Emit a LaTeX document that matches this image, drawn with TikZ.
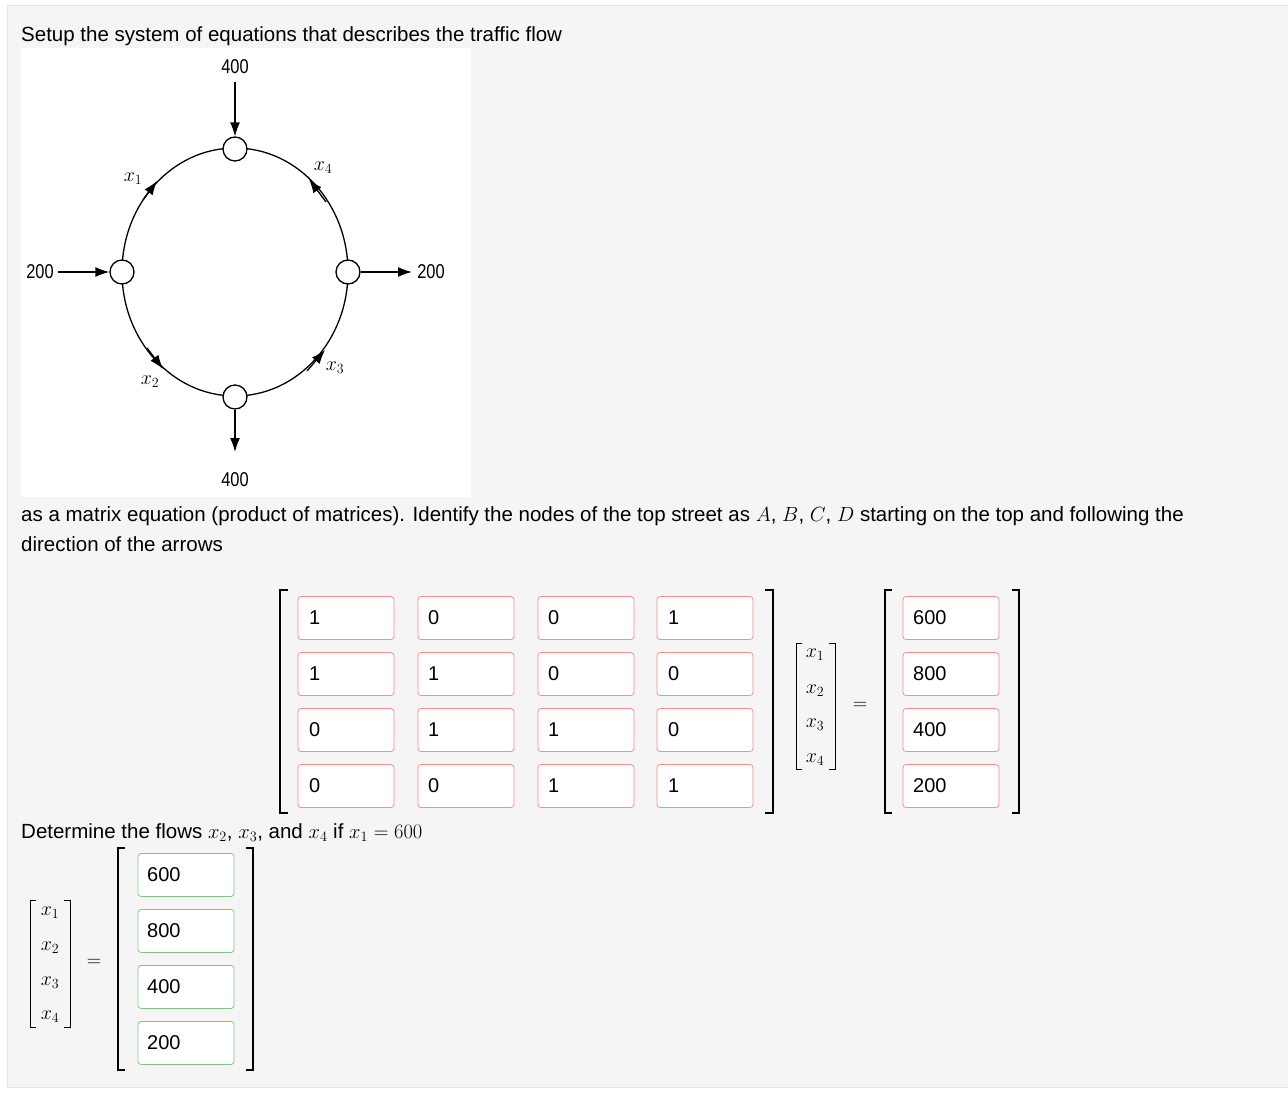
\RequirePackage{fix-cm}
\documentclass[tikz,border=0pt]{standalone}
\usepackage{fontspec}
\setmainfont{Liberation Sans}
\newfontfamily\narrow[FakeStretch=0.82]{Liberation Sans}
\usetikzlibrary{arrows.meta}
\begin{document}
\begin{tikzpicture}[x=1pt,y=-1pt,
 txt/.style={anchor=base west,inner sep=0,font=\fontsize{20.5}{24}\selectfont},
 lab/.style={font=\narrow\fontsize{20}{22}\selectfont,inner sep=0},
 xl/.style={font=\fontsize{20}{22}\selectfont,inner sep=0},
 nd/.style={circle,draw,fill=white,minimum size=24pt,inner sep=0,line width=1.3pt},
 ar/.style={-{Latex[length=14pt,width=10pt]},line width=1.3pt},
 rbox/.style={draw=red!45,rounded corners=3pt,fill=white,minimum width=96pt,minimum height=43pt,line width=0.8pt},
 gbox/.style={draw=green!55!black!50,rounded corners=3pt,fill=white,minimum width=96pt,minimum height=43pt,line width=0.8pt},
 bt/.style={font=\fontsize{20}{22}\selectfont,anchor=west,inner sep=0},
 br/.style={line width=1.5pt}]
\useasboundingbox (0,0) rectangle (1288,1095);
\fill[white] (0,0) rectangle (1288,1095);
\draw[fill=black!4,draw=black!10] (7,5) rectangle (1288,1087);
\fill[white] (21,48) rectangle (471,497);
\node[txt] (t1) at (21,41) {Setup the system of equations that describes the traffic flow};
% diagram
\draw[line width=1.3pt] (235,272) ellipse [x radius=113, y radius=124];
\node[nd] (T) at (235,149) {};
\node[nd] (L) at (122,272) {};
\node[nd] (R) at (348,272) {};
\node[nd] (B) at (235,397) {};
\node[lab] (n400a) at (235,67) {400};
\node[lab] (n400b) at (235,480) {400};
\node[lab] (n200a) at (40,272) {200};
\node[lab] (n200b) at (431,272) {200};
\coordinate (ta) at (235,82); \coordinate (bb) at (235,452);
\coordinate (la) at (58,272); \coordinate (rb) at (412,272);
\draw[ar] (ta) -- (T.north);
\draw[ar] (B.south) -- (bb);
\draw[ar] (la) -- (L.west);
\draw[ar] (R.east) -- (rb);
\coordinate (a1s) at (143,200); \coordinate (a1e) at (157,181);
\coordinate (a4s) at (326,202); \coordinate (a4e) at (309,179);
\coordinate (a2s) at (147,348); \coordinate (a2e) at (163,369);
\coordinate (a3s) at (307,371); \coordinate (a3e) at (325,350);
\draw[ar] (a1s) -- (a1e);
\draw[ar] (a4s) -- (a4e);
\draw[ar] (a2s) -- (a2e);
\draw[ar] (a3s) -- (a3e);
\node[xl] (x1) at (133,179) {$x_1$};
\node[xl] (x4) at (323,168) {$x_4$};
\node[xl] (x2) at (150,382) {$x_2$};
\node[xl] (x3) at (335,368) {$x_3$};
\node[txt] (t2) at (21,521) {as a matrix equation (product of matrices). Identify the nodes of the top street as $A$, $B$, $C$, $D$ starting on the top and following the};
\node[txt] (t3) at (21,551) {direction of the arrows};
% matrix
\foreach \r/\y/\a/\b/\c/\d/\v in {1/618/1/0/0/1/600,2/674/1/1/0/0/800,3/730/0/1/1/0/400,4/786/0/0/1/1/200}{
 \node[rbox] (m\r a) at (346,\y) {}; \node[bt] at (309,\y) {\a};
 \node[rbox] (m\r b) at (466,\y) {}; \node[bt] at (428,\y) {\b};
 \node[rbox] (m\r c) at (586,\y) {}; \node[bt] at (548,\y) {\c};
 \node[rbox] (m\r d) at (705,\y) {}; \node[bt] at (668,\y) {\d};
 \node[rbox] (v\r) at (951,\y) {}; \node[bt] at (913,\y) {\v};
}
\draw[br] (288,590) -- (280,590) -- (280,813) -- (288,813);
\draw[br] (765,590) -- (773,590) -- (773,813) -- (765,813);
\draw[br] (892,590) -- (885,590) -- (885,813) -- (892,813);
\draw[br] (1012,590) -- (1019,590) -- (1019,813) -- (1012,813);
\draw[line width=1pt] (802,643) -- (796,643) -- (796,769) -- (802,769);
\draw[line width=1pt] (829,643) -- (835,643) -- (835,769) -- (829,769);
\foreach \i/\y in {1/655,2/691,3/725,4/760}{\node[xl] (vx\i) at (815,\y) {$x_\i$};}
\node[xl] (eq1) at (860,706) {$=$};
% second
\node[txt] (t4) at (21,838) {Determine the flows $x_2$, $x_3$, and $x_4$ if $x_1=600$};
\draw[line width=1pt] (36,900) -- (30,900) -- (30,1027) -- (36,1027);
\draw[line width=1pt] (64,900) -- (70,900) -- (70,1027) -- (64,1027);
\foreach \i/\y in {1/913,2/948,3/983,4/1017}{\node[xl] (wx\i) at (50,\y) {$x_\i$};}
\node[xl] (eq2) at (94,963) {$=$};
\draw[br] (125,848) -- (118,848) -- (118,1070) -- (125,1070);
\draw[br] (246,848) -- (253,848) -- (253,1070) -- (246,1070);
\foreach \r/\y/\v in {1/875/600,2/931/800,3/987/400,4/1043/200}{
 \node[gbox] (g\r) at (186,\y) {}; \node[bt] at (147,\y) {\v};}
\end{tikzpicture}
\end{document}
